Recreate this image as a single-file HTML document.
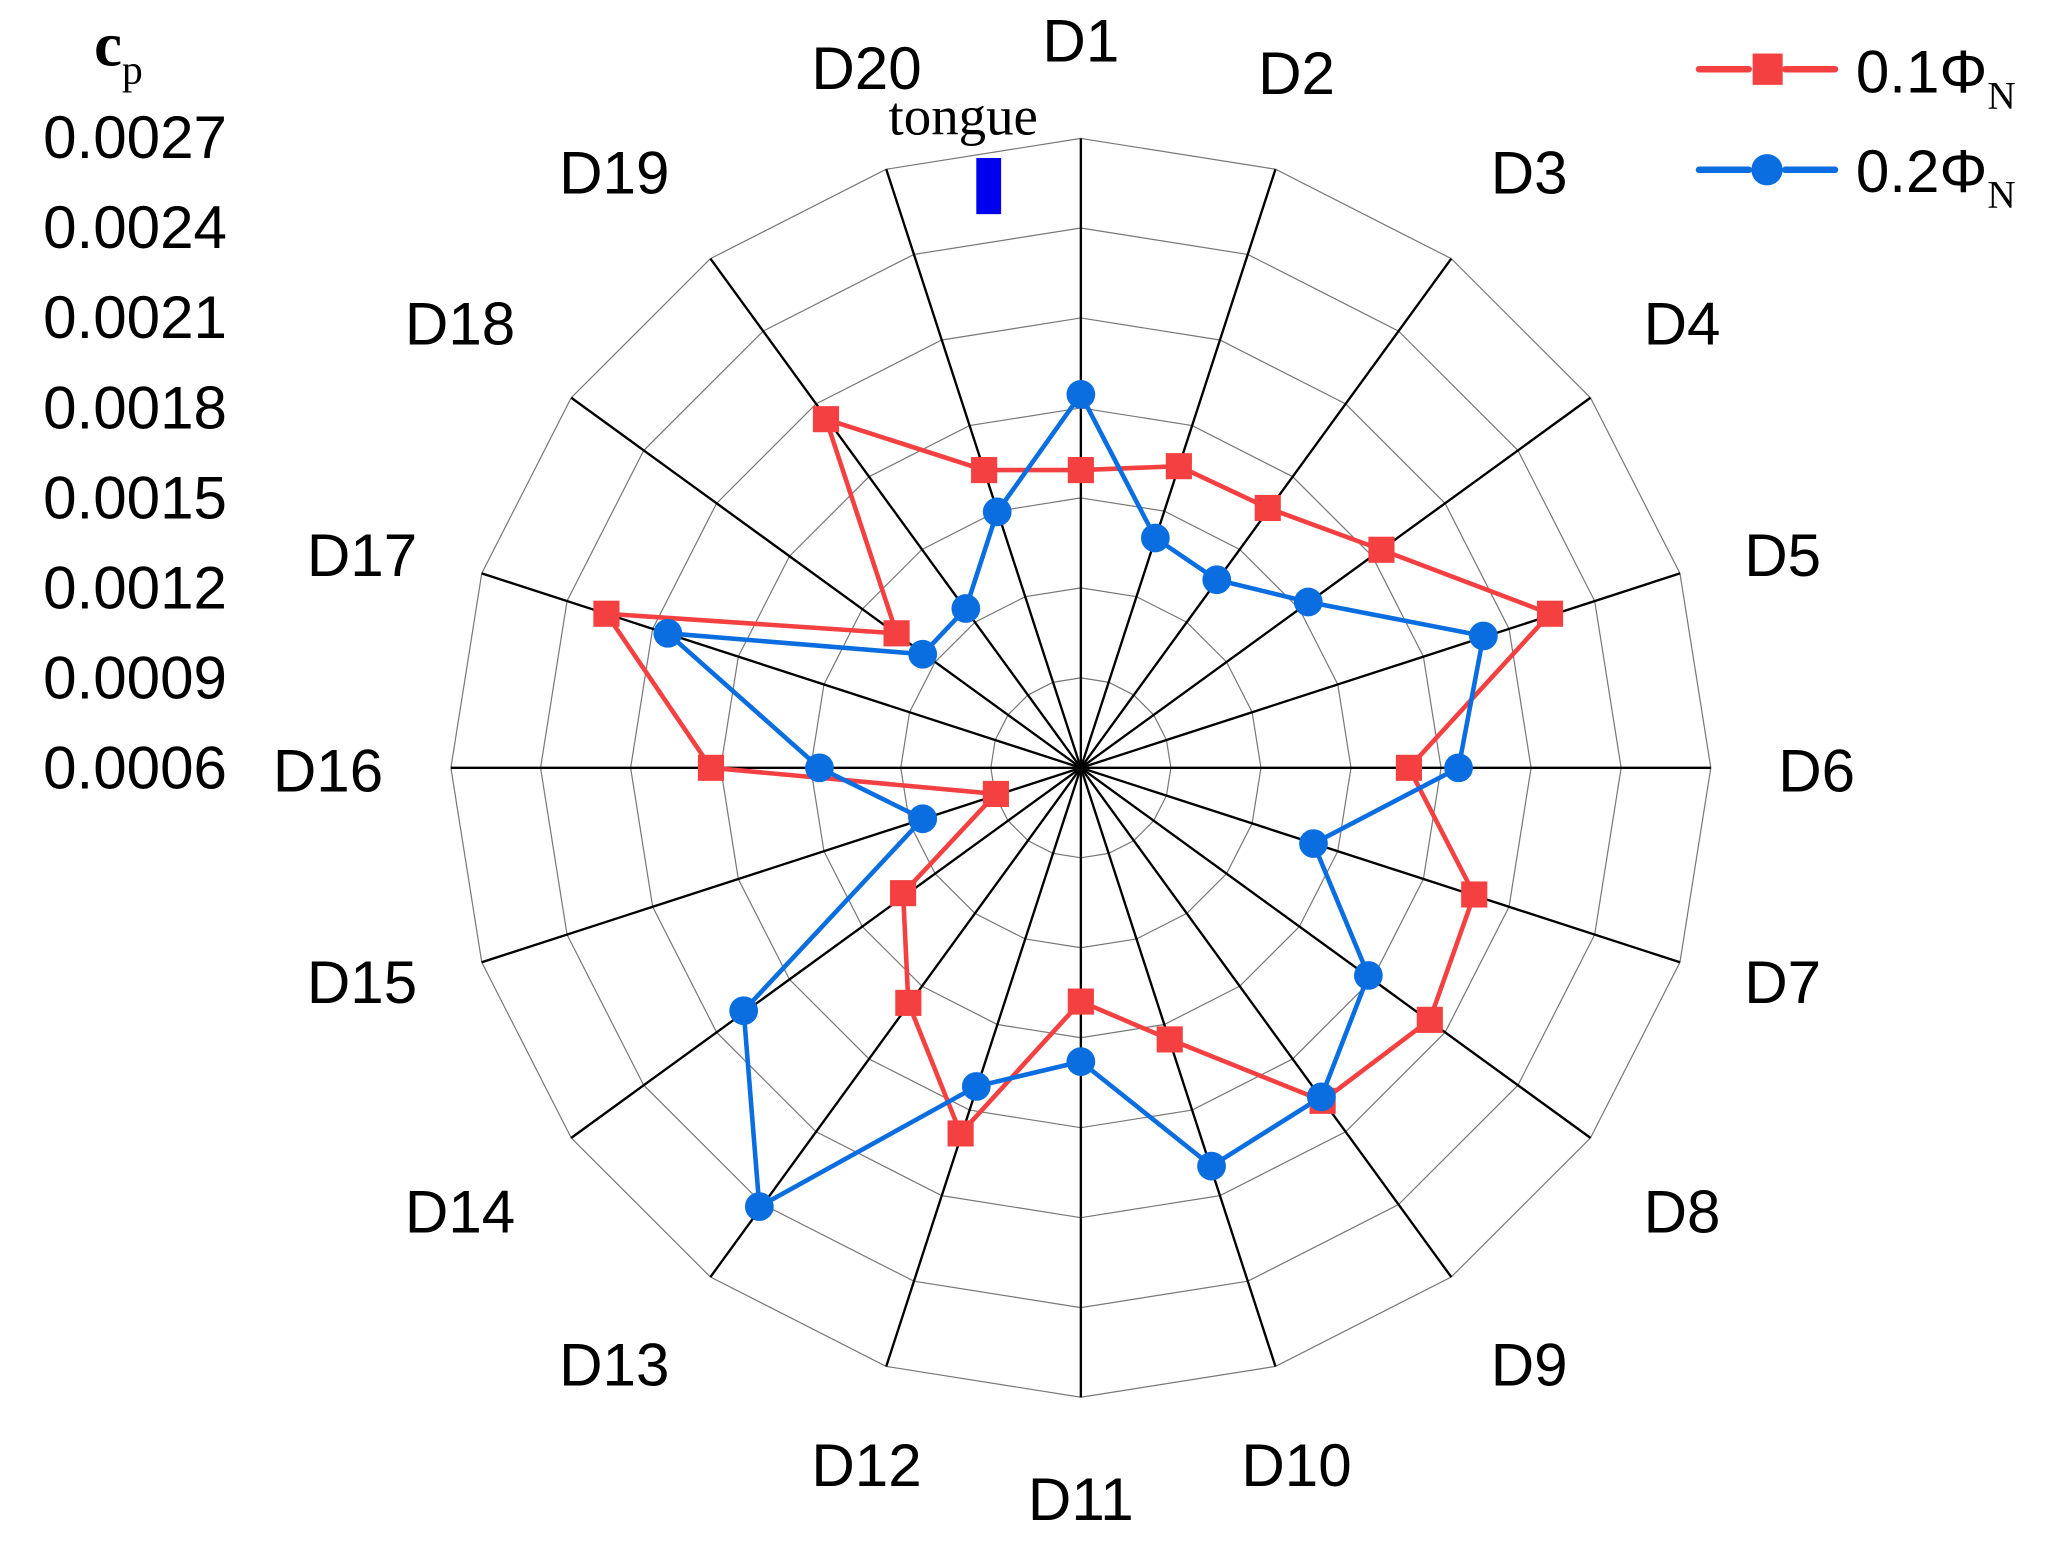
<!DOCTYPE html>
<html><head><meta charset="utf-8"><style>
html,body{margin:0;padding:0;background:#fff;}
svg{display:block;}
text{font-family:"Liberation Sans",sans-serif;fill:#000;}
</style></head><body>
<svg width="2048" height="1550" viewBox="0 0 1567 1187" preserveAspectRatio="none" xmlns="http://www.w3.org/2000/svg">
<defs>
<polygon id="ring" points="0,-1 .309,-.951 .588,-.809 .809,-.588 .951,-.309 1,0 .951,.309 .809,.588 .588,.809 .309,.951 0,1 -.309,.951 -.588,.809 -.809,.588 -.951,.309 -1,0 -.951,-.309 -.809,-.588 -.588,-.809 -.309,-.951" fill="none" stroke="#777" stroke-width="1.2" vector-effect="non-scaling-stroke"/>
</defs>
<g transform="translate(827,588)">
<use href="#ring" transform="scale(68.9)"/>
<use href="#ring" transform="scale(137.8)"/>
<use href="#ring" transform="scale(206.7)"/>
<use href="#ring" transform="scale(275.6)"/>
<use href="#ring" transform="scale(344.5)"/>
<use href="#ring" transform="scale(413.4)"/>
<use href="#ring" transform="scale(482)"/>
<g stroke="#000" stroke-width="1.8">
<line x1="0" y1="-482" x2="0" y2="482"/>
<line x1="148.9" y1="-458.4" x2="-148.9" y2="458.4"/>
<line x1="283.4" y1="-389.9" x2="-283.4" y2="389.9"/>
<line x1="389.9" y1="-283.4" x2="-389.9" y2="283.4"/>
<line x1="458.4" y1="-148.9" x2="-458.4" y2="148.9"/>
<line x1="482" y1="0" x2="-482" y2="0"/>
<line x1="458.4" y1="148.9" x2="-458.4" y2="-148.9"/>
<line x1="389.9" y1="283.4" x2="-389.9" y2="-283.4"/>
<line x1="283.4" y1="389.9" x2="-283.4" y2="-389.9"/>
<line x1="148.9" y1="458.4" x2="-148.9" y2="-458.4"/>
</g>
</g>
<rect x="747" y="121" width="19" height="43" fill="#0000ee"/>
<text x="737" y="103" text-anchor="middle" style="font-family:'Liberation Serif',serif;font-size:42px">tongue</text>

<polygon fill="none" stroke="#f44040" stroke-width="3.5" stroke-linejoin="round" points="827,360 902,357 970,389 1057,421 1186,470 1078,588 1128,685 1094,781 1012,843 895,796 827,767 735,868 695,768 691,684 762,608 544,588 464,470 686,485 632,321 753,360"/>
<polygon fill="none" stroke="#0a6ee0" stroke-width="3.5" stroke-linejoin="round" points="827,302 884,412 931,444 1001,461 1135,487 1116,588 1005,646 1047,747 1011,840 927,893 827,813 747,832 581,924 569,774 706,627 627,588 511,485 706,501 739,466 763,392"/>
<g fill="#f44040">
<rect x="817" y="350" width="20" height="20"/><rect x="892" y="347" width="20" height="20"/><rect x="960" y="379" width="20" height="20"/><rect x="1047" y="411" width="20" height="20"/><rect x="1176" y="460" width="20" height="20"/><rect x="1068" y="578" width="20" height="20"/><rect x="1118" y="675" width="20" height="20"/><rect x="1084" y="771" width="20" height="20"/><rect x="1002" y="833" width="20" height="20"/><rect x="885" y="786" width="20" height="20"/><rect x="817" y="757" width="20" height="20"/><rect x="725" y="858" width="20" height="20"/><rect x="685" y="758" width="20" height="20"/><rect x="681" y="674" width="20" height="20"/><rect x="752" y="598" width="20" height="20"/><rect x="534" y="578" width="20" height="20"/><rect x="454" y="460" width="20" height="20"/><rect x="676" y="475" width="20" height="20"/><rect x="622" y="311" width="20" height="20"/><rect x="743" y="350" width="20" height="20"/>
</g>
<g fill="#0a6ee0">
<circle cx="827" cy="302" r="11"/><circle cx="884" cy="412" r="11"/><circle cx="931" cy="444" r="11"/><circle cx="1001" cy="461" r="11"/><circle cx="1135" cy="487" r="11"/><circle cx="1116" cy="588" r="11"/><circle cx="1005" cy="646" r="11"/><circle cx="1047" cy="747" r="11"/><circle cx="1011" cy="840" r="11"/><circle cx="927" cy="893" r="11"/><circle cx="827" cy="813" r="11"/><circle cx="747" cy="832" r="11"/><circle cx="581" cy="924" r="11"/><circle cx="569" cy="774" r="11"/><circle cx="706" cy="627" r="11"/><circle cx="627" cy="588" r="11"/><circle cx="511" cy="485" r="11"/><circle cx="706" cy="501" r="11"/><circle cx="739" cy="466" r="11"/><circle cx="763" cy="392" r="11"/>
</g>

<g font-size="46" text-anchor="middle">
<text x="827" y="47">D1</text>
<text x="992" y="72">D2</text>
<text x="1170" y="148">D3</text>
<text x="1287" y="264">D4</text>
<text x="1364" y="441">D5</text>
<text x="1390" y="606">D6</text>
<text x="1364" y="768">D7</text>
<text x="1287" y="944">D8</text>
<text x="1170" y="1061">D9</text>
<text x="992" y="1138">D10</text>
<text x="827" y="1164">D11</text>
<text x="663" y="1138">D12</text>
<text x="470" y="1061">D13</text>
<text x="352" y="944">D14</text>
<text x="277" y="768">D15</text>
<text x="251" y="606">D16</text>
<text x="277" y="441">D17</text>
<text x="352" y="264">D18</text>
<text x="470" y="148">D19</text>
<text x="663" y="68">D20</text>
</g>
<g font-size="46">
<text x="33" y="121">0.0027</text>
<text x="33" y="190">0.0024</text>
<text x="33" y="259">0.0021</text>
<text x="33" y="328">0.0018</text>
<text x="33" y="397">0.0015</text>
<text x="33" y="466">0.0012</text>
<text x="33" y="535">0.0009</text>
<text x="33" y="604">0.0006</text>
</g>
<text x="72" y="50" style="font-family:'Liberation Serif',serif;font-size:48px;font-weight:bold">c<tspan font-size="32" font-weight="normal" dy="14">p</tspan></text>

<line x1="1300" y1="53" x2="1338" y2="53" stroke="#f44040" stroke-width="5" stroke-linecap="round"/>
<line x1="1366" y1="53" x2="1404" y2="53" stroke="#f44040" stroke-width="5" stroke-linecap="round"/>
<rect x="1341" y="41" width="23" height="24" fill="#f44040"/>
<line x1="1300" y1="130" x2="1338" y2="130" stroke="#0a6ee0" stroke-width="5" stroke-linecap="round"/>
<line x1="1366" y1="130" x2="1404" y2="130" stroke="#0a6ee0" stroke-width="5" stroke-linecap="round"/>
<circle cx="1352" cy="130" r="12" fill="#0a6ee0"/>
<text x="1420" y="71" font-size="46">0.1Φ<tspan font-size="30" dy="12" style="font-family:'Liberation Serif',serif">N</tspan></text>
<text x="1420" y="147" font-size="46">0.2Φ<tspan font-size="30" dy="12" style="font-family:'Liberation Serif',serif">N</tspan></text>
</svg>
</body></html>
